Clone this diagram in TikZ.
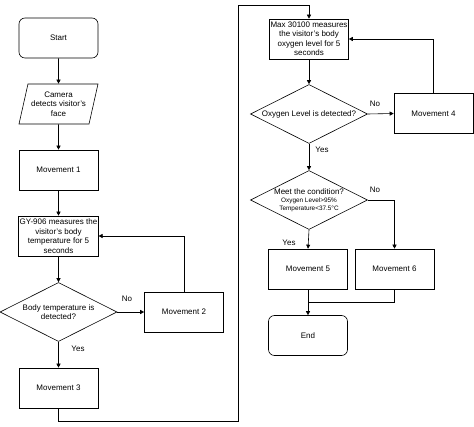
\documentclass[tikz,border=0pt]{standalone}
\usepackage{fontspec}
\setmainfont{Liberation Sans}
\usetikzlibrary{shapes.geometric,arrows.meta}
\begin{document}
\begin{tikzpicture}[x=1pt, y=-1pt, font=\fontsize{8}{9.5}\selectfont,
    boxStyle/.style={rectangle, draw, minimum width=79pt, minimum height=40pt, inner sep=1pt, align=center},
    termStyle/.style={boxStyle, rounded corners=6pt},
    ioStyle/.style={trapezium, draw, trapezium left angle=70, trapezium right angle=110, trapezium stretches body, minimum width=79pt, minimum height=40pt, inner sep=0pt, align=center},
    decStyle/.style={diamond, draw, aspect=2, minimum width=117pt, minimum height=59pt, inner sep=0pt, align=center},
    lblStyle/.style={inner sep=0pt},
    every path/.style={line width=0.6pt},
    >={Triangle[length=4pt, width=4pt]}]
                    \useasboundingbox (0, 0) rectangle (474, 427);

                    \node[termStyle](start) at (58.5,  38) {Start};
                    \node[ioStyle]  (cam)   at (58.5, 104) {Camera\\detects visitor's\\face};
                    \node[boxStyle] (mov_1) at (58.5, 170) {Movement 1};
                    \node[boxStyle] (gy)    at (58.5, 236) {GY-906 measures the\\visitor's body\\temperature for 5\\seconds};
                    \node[decStyle] (body)  at (58.5, 312) {Body temperature is\\detected?};
                    \node[boxStyle] (mov_2) at ( 184, 312) {Movement 2};
                    \node[boxStyle] (mov_3) at (58.5, 388) {Movement 3};

                    \node[boxStyle] (max)   at (  309,  39) {Max 30100 measures\\the visitor's body\\oxygen level for 5\\seconds};
                    \node[decStyle] (oxy)   at (  309, 114) {Oxygen Level is detected?};
                    \node[boxStyle] (mov_4) at (433.5, 113.5) {Movement 4};
                    \node[decStyle] (cond)  at (  309, 200) {Meet the condition?\\[-1.5pt]{\fontsize{6.4}{7.5}\selectfont Oxygen Level>95\%}\\[-1.5pt]{\fontsize{6.4}{7.5}\selectfont Temperature<37.5°C}};
                    \node[boxStyle] (mov_5) at (  308, 269) {Movement 5};
                    \node[boxStyle] (mov_6) at (394.5, 269) {Movement 6};
                    \node[termStyle](end)   at (  308, 335.5) {End};

                    \node[lblStyle] (no_1)  at (127, 299) {No};
                    \node[lblStyle] (yes_1) at ( 78, 349) {Yes};
                    \node[lblStyle] (no_2)  at (375, 104) {No};
                    \node[lblStyle] (yes_2) at (322, 150) {Yes};
                    \node[lblStyle] (no_3)  at (375, 190) {No};
                    \node[lblStyle] (yes_3) at (289, 243) {Yes};

                    \coordinate (turn_a) at (238, 421);
                    \coordinate (turn_b) at (238,   5);
                    \coordinate (merge)  at (308, 302);

                    \draw[->] (start.south) -- (cam.north);
                    \draw[->] (cam.south) -- (mov_1.north);
                    \draw[->] (mov_1.south) -- (gy.north);
                    \draw[->] (gy.south) -- (body.north);
                    \draw[->] (body.east) -- (mov_2.west);
                    \draw[->] (mov_2.north) |- (gy.east);
                    \draw[->] (body.south) -- (mov_3.north);
                    \draw[->] (mov_3.south) |- (turn_a) -- (turn_b) -| (max.north);

                    \draw[->] (max.south) -- (oxy.north);
                    \draw[->] (oxy.east) -- (mov_4.west);
                    \draw[->] (mov_4.north) |- (max.east);
                    \draw[->] (oxy.south) -- (cond.north);
                    \draw[->] (cond.east) -| (mov_6.north);
                    \draw[->] (cond.south) -- (mov_5.north);
                    \draw[->] (mov_5.south) -- (end.north);
                    \draw (mov_6.south) |- (merge);
                \end{tikzpicture}
\end{document}
